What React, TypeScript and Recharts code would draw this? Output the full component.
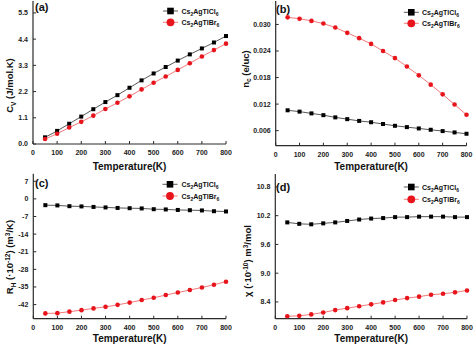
import React from 'react';
import { LineChart, Line, XAxis, YAxis } from 'recharts';

const TEMPERATURE = [50, 100, 150, 200, 250, 300, 350, 400, 450, 500, 550, 600, 650, 700, 750, 800];
const X_TICKS = [0, 100, 200, 300, 400, 500, 600, 700, 800];
const SERIES_NAMES = ['Cs2AgTlCl6', 'Cs2AgTlBr6'];

const CV_CL = [0.28, 0.55, 0.85, 1.15, 1.46, 1.76, 2.05, 2.36, 2.67, 2.96, 3.23, 3.5, 3.76, 4.01, 4.26, 4.53];
const CV_BR = [0.21, 0.43, 0.69, 0.93, 1.19, 1.47, 1.73, 2.0, 2.29, 2.57, 2.83, 3.11, 3.39, 3.67, 3.94, 4.21];
const CV_TICKS = [0, 1.1, 2.2, 3.3, 4.4, 5.5];

const NC_CL = [0.0106, 0.0103, 0.0099, 0.0095, 0.009, 0.0086, 0.0082, 0.0079, 0.0075, 0.0071, 0.0068, 0.0065, 0.0062, 0.0059, 0.0056, 0.0053];
const NC_BR = [0.0316, 0.0313, 0.0308, 0.0302, 0.0293, 0.0281, 0.0269, 0.0256, 0.024, 0.0224, 0.0205, 0.0185, 0.0164, 0.0142, 0.0119, 0.0096];
const NC_TICKS = [0.006, 0.012, 0.018, 0.024, 0.03];

const RH_CL = [-2.5, -2.6, -2.9, -3.0, -3.2, -3.4, -3.6, -3.7, -3.8, -4.1, -4.2, -4.4, -4.5, -4.6, -4.9, -5.0];
const RH_BR = [-45.5, -45.4, -44.8, -44.2, -43.5, -42.9, -42.1, -41.2, -40.2, -39.3, -38.2, -37.2, -36.2, -35.2, -34.1, -32.9];
const RH_TICKS = [-42, -35, -28, -21, -14, -7, 0, 7];

const CHI_CL = [10.06, 10.03, 10.02, 10.04, 10.06, 10.09, 10.12, 10.14, 10.15, 10.17, 10.17, 10.18, 10.18, 10.18, 10.17, 10.17];
const CHI_BR = [8.1, 8.11, 8.14, 8.18, 8.23, 8.27, 8.31, 8.35, 8.39, 8.44, 8.48, 8.51, 8.55, 8.57, 8.6, 8.64];
const CHI_TICKS = [8.4, 9.0, 9.6, 10.2, 10.8];

const FONT = '"Liberation Sans", Arial, sans-serif';
const AXIS_COLOR = '#2b2b2b';
const BLACK_LINE = '#444444';
const RED_LINE = '#f06a6a';
const RED_DOT = '#e8141c';

const axisLineStyle = { stroke: AXIS_COLOR, strokeWidth: 1.2 };
const tickLineStyle = { stroke: AXIS_COLOR, strokeWidth: 1 };
const tickStyle = { fontSize: 7, fontWeight: 700, fill: '#222', fontFamily: FONT };

const EmptyTick = () => <g />;

function Formula({ name, size }: { name: string; size: number }) {
  const parts = name.match(/\d+|\D+/g) || [];
  let shifted = false;
  const out = parts.map((p, i) => {
    const isNum = /\d/.test(p);
    let dy = 0;
    if (isNum && !shifted) dy = size * 0.32;
    if (!isNum && shifted) dy = -size * 0.32;
    shifted = isNum;
    return (
      <tspan key={i} dy={dy} fontSize={isNum ? size * 0.72 : size}>
        {p}
      </tspan>
    );
  });
  return <>{out}</>;
}

const SquareDot = (p: any) => (
  <rect key={`s-${p.index}`} x={p.cx - 2} y={p.cy - 2} width={4} height={4} fill="#000" />
);
const CircleDot = (p: any) => (
  <circle key={`c-${p.index}`} cx={p.cx} cy={p.cy} r={2.3} fill={RED_DOT} />
);

const S = (t: string, fs = 6.5) => (
  <tspan fontSize={fs} dy={2.5}>{t}</tspan>
);

const PANELS = [
  {
    left: 0, top: 0, width: 237, height: 172,
    margin: { top: 1, right: 11, left: 0, bottom: 0 }, yWidth: 33, xHeight: 28,
    domain: [0, 6], ticks: CV_TICKS, digits: 1, cl: CV_CL, br: CV_BR,
    letter: '(a)', letterPos: [35, 11], legend: { x: 170.5, y1: 11, y2: 22.3, tx: 181.5 },
    yLabelPos: [13, 85.5], xLabelY: 169.5,
    yLabel: (
      <>
        <tspan>C</tspan>{S('V')}<tspan dy={-2.5}> (J/mol.K)</tspan>
      </>
    ),
  },
  {
    left: 237, top: 0, width: 237, height: 172,
    margin: { top: 1, right: 7.5, left: 0, bottom: 0 }, yWidth: 38.7, xHeight: 26.3,
    domain: [0.0026, 0.0353], ticks: NC_TICKS, digits: 3, cl: NC_CL, br: NC_BR,
    letter: '(b)', letterPos: [39, 12.5], legend: { x: 174.3, y1: 12.3, y2: 23.3, tx: 185 },
    yLabelPos: [11.5, 69], xLabelY: 169.5,
    yLabel: (
      <>
        <tspan>n</tspan>{S('c')}<tspan dy={-2.5}> (e/uc)</tspan>
      </>
    ),
  },
  {
    left: 0, top: 172, width: 237, height: 175,
    margin: { top: 1.7, right: 11, left: 0, bottom: 0 }, yWidth: 33.3, xHeight: 28.3,
    domain: [-47.6, 10], ticks: RH_TICKS, digits: 0, cl: RH_CL, br: RH_BR,
    letter: '(c)', letterPos: [35, 14.5], legend: { x: 170, y1: 12.3, y2: 24, tx: 181.5 },
    yLabelPos: [13, 85], xLabelY: 169.5,
    yLabel: (
      <>
        <tspan>R</tspan>{S('H')}<tspan dy={-2.5}> (·10</tspan>
        <tspan fontSize={6.5} dy={-3.5}>-12</tspan>
        <tspan dy={3.5}>) (m</tspan>
        <tspan fontSize={6.5} dy={-3.5}>3</tspan>
        <tspan dy={3.5}>/K)</tspan>
      </>
    ),
  },
  {
    left: 237, top: 172, width: 237, height: 175,
    margin: { top: 2, right: 7, left: 0, bottom: 0 }, yWidth: 38.3, xHeight: 28.3,
    domain: [8.05, 11.07], ticks: CHI_TICKS, digits: 1, cl: CHI_CL, br: CHI_BR,
    letter: '(d)', letterPos: [39, 19], legend: { x: 174.3, y1: 15, y2: 27.3, tx: 185 },
    yLabelPos: [14, 89], xLabelY: 169.5,
    yLabel: (
      <>
        <tspan>χ (·10</tspan>
        <tspan fontSize={6.5} dy={-3.5}>-10</tspan>
        <tspan dy={3.5}>) m</tspan>
        <tspan fontSize={6.5} dy={-3.5}>3</tspan>
        <tspan dy={3.5}>/mol</tspan>
      </>
    ),
  },
];

function Panel({ cfg }: { cfg: any }) {
  const data = TEMPERATURE.map((t, i) => ({ t, cl: cfg.cl[i], br: cfg.br[i] }));
  const { width, height, margin, yWidth, xHeight } = cfg;
  const plotLeft = margin.left + yWidth;
  const plotRight = width - margin.right;
  const cx = (plotLeft + plotRight) / 2;
  const lg = cfg.legend;
  return (
    <div style={{ position: 'absolute', left: cfg.left, top: cfg.top, width, height }}>
      <LineChart width={width} height={height} data={data} margin={margin}>
        <XAxis
          dataKey="t" type="number" domain={[0, 800]} ticks={X_TICKS} height={xHeight}
          tickSize={-3} tickMargin={9} axisLine={axisLineStyle} tickLine={tickLineStyle}
          tick={tickStyle} interval={0}
        />
        <XAxis
          xAxisId="top" orientation="top" type="number" domain={[0, 800]} ticks={X_TICKS} height={0}
          tickSize={-3} axisLine={axisLineStyle} tickLine={tickLineStyle} tick={EmptyTick} interval={0}
        />
        <YAxis
          type="number" domain={cfg.domain} ticks={cfg.ticks} width={yWidth} allowDataOverflow
          tickSize={-3} tickMargin={8} axisLine={axisLineStyle} tickLine={tickLineStyle}
          tick={tickStyle} interval={0} tickFormatter={(v: number) => v.toFixed(cfg.digits)}
        />
        <YAxis
          yAxisId="right" orientation="right" type="number" domain={cfg.domain} ticks={cfg.ticks} width={0}
          tickSize={-3} axisLine={axisLineStyle} tickLine={tickLineStyle} tick={EmptyTick} interval={0}
        />
        <Line
          dataKey="cl" name={SERIES_NAMES[0]} stroke={BLACK_LINE} strokeWidth={0.9}
          dot={SquareDot} activeDot={false} isAnimationActive={false}
        />
        <Line
          dataKey="br" name={SERIES_NAMES[1]} stroke={RED_LINE} strokeWidth={0.9}
          dot={CircleDot} activeDot={false} isAnimationActive={false}
        />
        <text x={cfg.letterPos[0]} y={cfg.letterPos[1]} fontSize={11} fontWeight={700} fontFamily={FONT} fill="#111">
          {cfg.letter}
        </text>
        <g fontFamily={FONT} fontWeight={700} fill="#111">
          <line x1={lg.x - 7.5} x2={lg.x + 7.5} y1={lg.y1} y2={lg.y1} stroke={BLACK_LINE} strokeWidth={0.9} />
          <rect x={lg.x - 3.3} y={lg.y1 - 3.3} width={6.6} height={6.6} fill="#000" />
          <text x={lg.tx} y={lg.y1 + 2.5} fontSize={7}>
            <Formula name={SERIES_NAMES[0]} size={7} />
          </text>
          <line x1={lg.x - 7.5} x2={lg.x + 7.5} y1={lg.y2} y2={lg.y2} stroke={RED_LINE} strokeWidth={0.9} />
          <circle cx={lg.x} cy={lg.y2} r={3.9} fill={RED_DOT} />
          <text x={lg.tx} y={lg.y2 + 2.5} fontSize={7}>
            <Formula name={SERIES_NAMES[1]} size={7} />
          </text>
        </g>
        <text
          x={cfg.yLabelPos[0]} y={cfg.yLabelPos[1]} textAnchor="middle"
          transform={`rotate(-90 ${cfg.yLabelPos[0]} ${cfg.yLabelPos[1]})`}
          fontSize={9.5} fontWeight={700} fontFamily={FONT} fill="#111"
        >
          {cfg.yLabel}
        </text>
        <text x={cx} y={cfg.xLabelY} textAnchor="middle" fontSize={10} fontWeight={700} fontFamily={FONT} fill="#111">
          Temperature(K)
        </text>
      </LineChart>
    </div>
  );
}

export default function App() {
  return (
    <div style={{ position: 'absolute', left: 0, top: 0, width: 474, height: 347, background: '#fff' }}>
      {PANELS.map((p, i) => (
        <Panel key={i} cfg={p} />
      ))}
    </div>
  );
}
